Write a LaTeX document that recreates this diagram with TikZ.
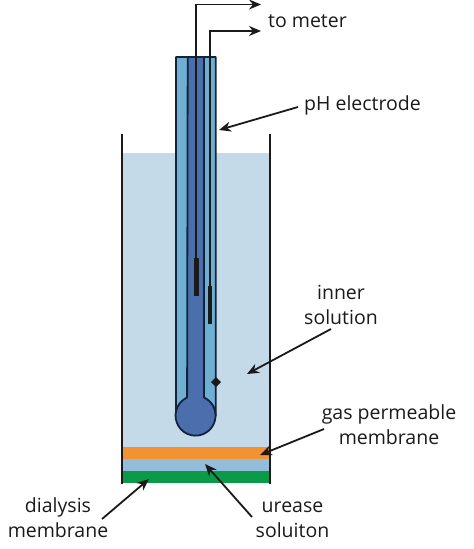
\documentclass[tikz,border=0pt]{standalone}
\usepackage{fontspec}
\setmainfont{Open Sans}
\usetikzlibrary{arrows.meta}
\definecolor{soln}{HTML}{C5DAE8}
\definecolor{outert}{HTML}{6FB0D2}
\definecolor{innert}{HTML}{4A6FAC}
\definecolor{orangem}{HTML}{F39233}
\definecolor{urease}{HTML}{93BEDB}
\definecolor{greenm}{HTML}{0B9B48}
\definecolor{ink}{HTML}{1A1A1A}
\definecolor{tubeline}{HTML}{14233C}
\tikzset{
 lab/.style={font=\fontsize{19.5}{25.5}\selectfont,text=ink,align=center,inner sep=0pt,anchor=center},
 tube/.style={draw=tubeline,line width=1.8pt,line join=round},
 wire/.style={draw=ink,line width=1.8pt},
 pointer/.style={draw=ink,line width=1.8pt,-{Stealth[length=12pt,width=10pt]}},
 wall/.style={draw=ink,line width=2.6pt}
}
\begin{document}
\begin{tikzpicture}[x=1pt,y=-1pt]
\useasboundingbox (0,0) rectangle (474,549);
% solution and layers
\fill[soln] (122,153) rectangle (270,447);
\fill[orangem] (122,447) rectangle (270,459);
\fill[urease] (122,459) rectangle (270,471);
\fill[greenm] (122,471) rectangle (270,483);
\draw[wall] (122,134) -- (122,484) (270,134) -- (270,484);
% electrode outer
\path[tube,fill=outert] (176,57) -- (215.7,57) -- (215.7,416) arc[start angle=0,end angle=180,x radius=19.85,y radius=-19.85] -- cycle;
% inner tube + bulb
\path[tube,fill=innert] (187.7,57) -- (204,57) -- (204,397.5)
  arc[start angle=-65,end angle=245,radius=20,y radius=20] -- cycle;
% wires
\coordinate (w1) at (196.3,4.5);
\coordinate (w2) at (210,31);
\coordinate (m1) at (261,4.5);
\coordinate (m2) at (261,31);
\draw[wire,line cap=rect] (196.3,258) -- (w1);
\draw[pointer] (w1) -- (m1);
\draw[wire,line cap=rect] (210,286) -- (w2);
\draw[pointer] (w2) -- (m2);
\fill[ink] (194,258) rectangle (198.6,296);
\fill[ink] (207.7,286) rectangle (212.3,324);
\fill[ink] (216,377) -- (221,382) -- (216,387) -- (211,382) -- cycle;
% labels
\node[lab] (meter) at (307.5,21) {to meter};
\node[lab] (ph) at (362.5,105) {pH electrode};
\node[lab] (inner) at (341,305) {inner\\solution};
\node[lab] (gas) at (389,424.5) {gas permeable\\membrane};
\node[lab] (ure) at (292.5,520) {urease\\soluiton};
\node[lab] (dia) at (58,517.5) {dialysis\\membrane};
% pointers
\coordinate (pt1) at (298,107);
\coordinate (tp1) at (219,130);
\coordinate (pt2) at (331,329);
\coordinate (tp2) at (247,374);
\coordinate (pt3) at (324,429);
\coordinate (tp3) at (260,455);
\coordinate (pt4) at (252,517);
\coordinate (tp4) at (205,464);
\coordinate (pt5) at (102,519);
\coordinate (tp5) at (149,479);
\draw[pointer] (pt1) -- (tp1);
\draw[pointer] (pt2) -- (tp2);
\draw[pointer] (pt3) -- (tp3);
\draw[pointer] (pt4) -- (tp4);
\draw[pointer] (pt5) -- (tp5);
\end{tikzpicture}
\end{document}
